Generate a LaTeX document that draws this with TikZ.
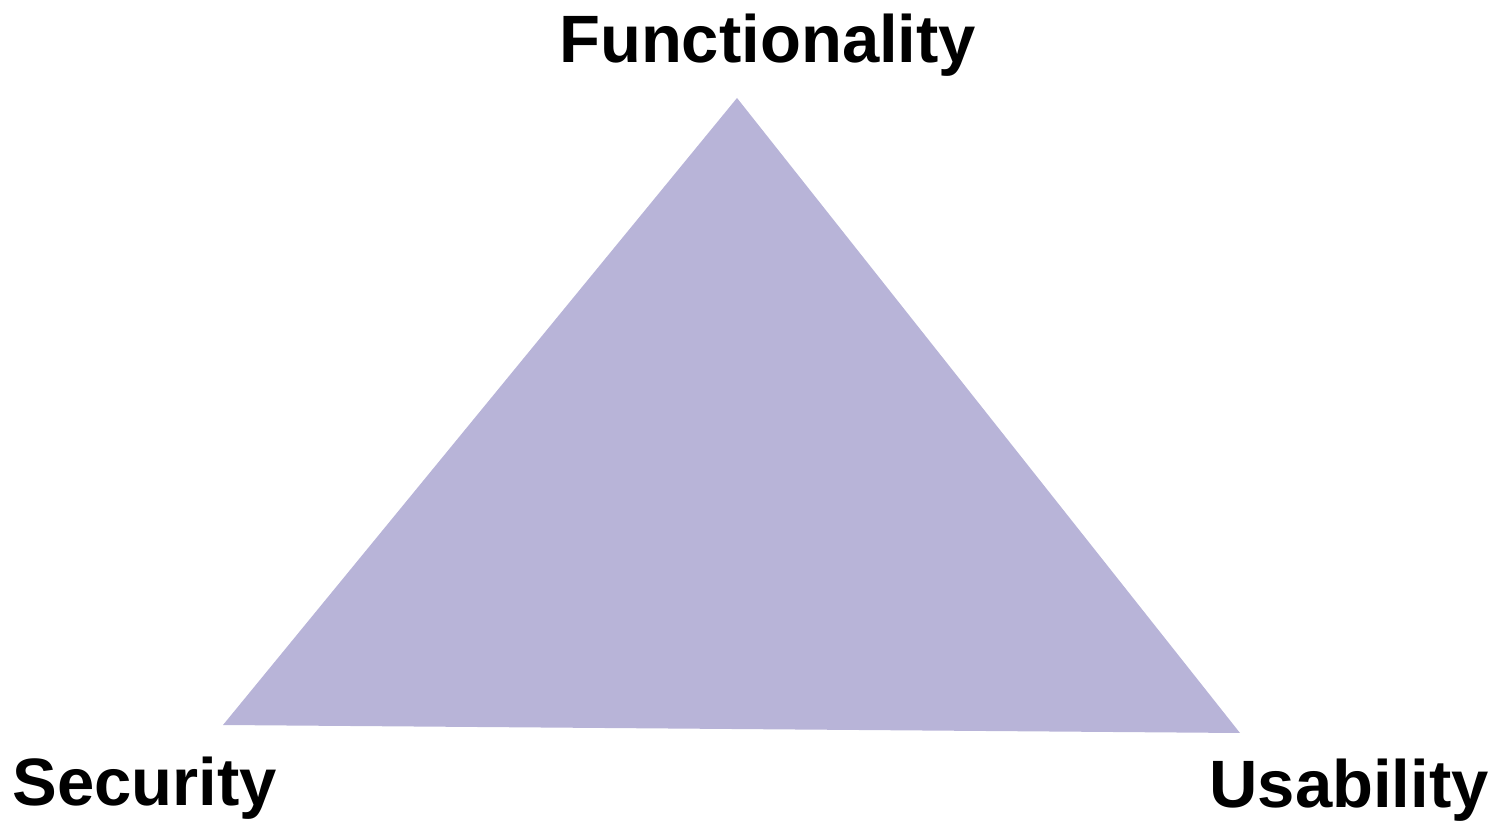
\documentclass[tikz,border=0pt]{standalone}
\usepackage{fontspec}
\setmainfont{Liberation Sans}
\definecolor{trifill}{RGB}{184,180,216}
\tikzset{corner label/.style={anchor=base,inner sep=0pt,font=\fontsize{33.5bp}{40bp}\selectfont\bfseries}}
\begin{document}
\begin{tikzpicture}[line join=bevel,]
%%
\useasboundingbox (0bp,0bp) rectangle (751bp,417bp);
\coordinate (apex_f) at (368.5bp,368.0bp);
  \coordinate (apex_s) at (111.5bp,54.5bp);
  \coordinate (apex_u) at (620.0bp,50.5bp);
  \fill [trifill] (apex_f) -- (apex_s) -- (apex_u) -- cycle;
  \node (node_f) at (383.8bp,385.5bp) [corner label] {Functionality};
  \node (node_s) at (72.3bp,14.5bp) [corner label] {Security};
  \node (node_u) at (674.5bp,13.5bp) [corner label] {Usability};
%
\end{tikzpicture}
\end{document}
